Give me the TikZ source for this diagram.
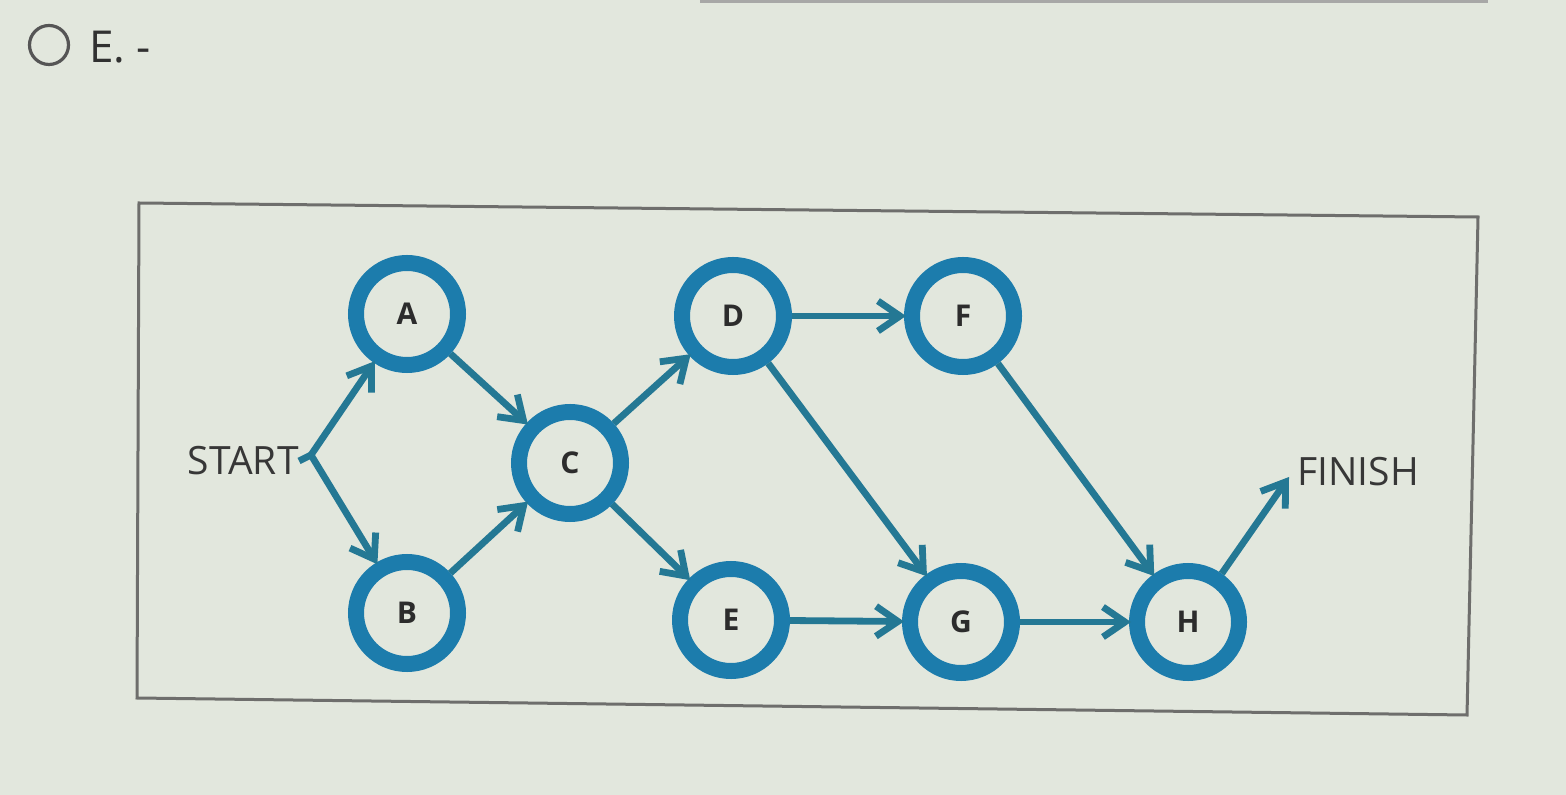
\documentclass[tikz,border=0pt]{standalone}
\usepackage{fontspec}
\setmainfont{Open Sans}
\usetikzlibrary{arrows.meta}
\definecolor{bg}{RGB}{226,231,221}
\definecolor{ring}{RGB}{28,124,172}
\definecolor{arr}{RGB}{36,120,148}
\definecolor{txt}{RGB}{55,55,55}
\definecolor{frame}{RGB}{110,110,108}
\tikzset{
  ev/.style={circle, draw=ring, line width=8pt, minimum size=51pt, inner sep=0pt,
    font=\fontsize{15}{15}\selectfont\bfseries, text=txt!80!black},
  lbl/.style={font=\fontsize{19.5}{20}\selectfont, text=txt, inner sep=0pt},
  link/.style={draw=arr, line width=3.4pt, -{Straight Barb[length=11pt,width=15pt,line width=3.4pt]}, shorten >=-1pt}
}
\begin{document}
\begin{tikzpicture}[x=0.5pt,y=-0.5pt]
\fill[bg] (0,0) rectangle (1566,795);
\useasboundingbox (0,0) rectangle (1566,795);
% top strip line
\draw[frame!60, line width=1.5pt] (700,1.5) -- (1488,1.5);
% radio button and option label
\node[circle, draw=txt!85, line width=1.6pt, minimum size=19.5pt, inner sep=0pt] (radio) at (49,45) {};
\node[font=\fontsize{22}{22}\selectfont, text=txt!90!black, anchor=west, inner sep=0pt] (opt) at (89,47) {E. -};
% frame
\draw[frame, line width=1.5pt] (139,203) -- (1478,217) -- (1467,715) -- (137,698) -- cycle;
% nodes
\node[ev] (A) at (407,314) {A};
\node[ev] (B) at (407,613) {B};
\node[ev] (C) at (570,463) {C};
\node[ev] (D) at (733,316) {D};
\node[ev] (F) at (963,316) {F};
\node[ev] (E) at (731,620) {E};
\node[ev] (G) at (961,622) {G};
\node[ev] (H) at (1188,622) {H};
\node[lbl, anchor=east] (start) at (299,461) {START};
\node[lbl, anchor=west] (finish) at (1297,472) {FINISH};
\coordinate (sv) at (311,455);
\coordinate (ft) at (1289,477);
% connectors
\draw[draw=arr, line width=3.4pt] (start.east) -- (sv);
\draw[link] (sv) -- (A);
\draw[link] (sv) -- (B);
\draw[link] (A) -- (C);
\draw[link] (B) -- (C);
\draw[link] (C) -- (D);
\draw[link] (C) -- (E);
\draw[link] (D) -- (F);
\draw[link] (D) -- (G);
\draw[link] (E) -- (G);
\draw[link] (F) -- (H);
\draw[link] (G) -- (H);
\draw[link, shorten >=0pt] (H) -- (ft);
\end{tikzpicture}
\end{document}
